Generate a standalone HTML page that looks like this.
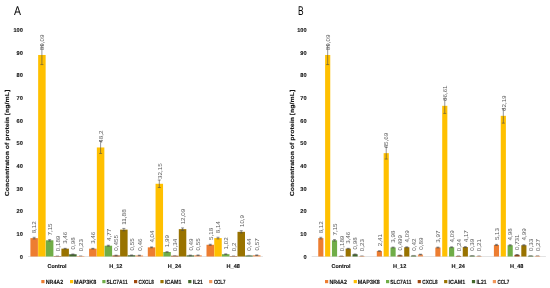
<!DOCTYPE html>
<html><head><meta charset="utf-8"><title>Protein concentration</title>
<style>
html,body{margin:0;padding:0;background:#fff;}
text[font-weight=bold]{stroke:#151515;stroke-width:0.12px;}
svg{display:block;font-family:"Liberation Sans",sans-serif;text-rendering:geometricPrecision;}
</style></head><body>
<svg width="550" height="288" viewBox="0 0 550 288">
<rect width="550" height="288" fill="#fff"/>
<text x="14" y="15.3" font-size="12.6" fill="#000" textLength="7" lengthAdjust="spacingAndGlyphs">A</text>
<text x="22.80" y="258.60" font-size="5.6" font-weight="bold" fill="#151515" text-anchor="end">0</text>
<text x="22.80" y="235.96" font-size="5.6" font-weight="bold" fill="#151515" text-anchor="end">10</text>
<text x="22.80" y="213.32" font-size="5.6" font-weight="bold" fill="#151515" text-anchor="end">20</text>
<text x="22.80" y="190.68" font-size="5.6" font-weight="bold" fill="#151515" text-anchor="end">30</text>
<text x="22.80" y="168.04" font-size="5.6" font-weight="bold" fill="#151515" text-anchor="end">40</text>
<text x="22.80" y="145.40" font-size="5.6" font-weight="bold" fill="#151515" text-anchor="end">50</text>
<text x="22.80" y="122.76" font-size="5.6" font-weight="bold" fill="#151515" text-anchor="end">60</text>
<text x="22.80" y="100.12" font-size="5.6" font-weight="bold" fill="#151515" text-anchor="end">70</text>
<text x="22.80" y="77.48" font-size="5.6" font-weight="bold" fill="#151515" text-anchor="end">80</text>
<text x="22.80" y="54.84" font-size="5.6" font-weight="bold" fill="#151515" text-anchor="end">90</text>
<text x="22.80" y="32.20" font-size="5.6" font-weight="bold" fill="#151515" text-anchor="end">100</text>
<text transform="translate(8.6,143) rotate(-90)" font-size="5.8" font-weight="bold" fill="#151515" text-anchor="middle" textLength="106.6" lengthAdjust="spacingAndGlyphs">Concentraton of protein [ng/mL]</text>
<line x1="28.1" y1="256.5" x2="262.90" y2="256.5" stroke="#D9D9D9" stroke-width="0.75"/>
<rect x="30.40" y="238.13" width="7.5" height="18.37" fill="#ED7D31"/>
<path d="M34.15 237.31V238.96M32.65 237.31h3M32.65 238.96h3" stroke="#4d4d4d" stroke-width="0.6" fill="none"/>
<text transform="translate(36.40,233.33) rotate(-90)" font-size="5.7" fill="#595959" textLength="12.1" lengthAdjust="spacingAndGlyphs">8,12</text>
<rect x="38.15" y="54.98" width="7.5" height="201.52" fill="#FFC000"/>
<path d="M41.90 45.38V64.58M40.40 45.38h3M40.40 64.58h3" stroke="#4d4d4d" stroke-width="0.6" fill="none"/>
<text transform="translate(44.15,50.18) rotate(-90)" font-size="5.7" fill="#595959" textLength="15.6" lengthAdjust="spacingAndGlyphs">89,09</text>
<rect x="45.90" y="240.33" width="7.5" height="16.17" fill="#70AD47"/>
<path d="M49.65 239.60V241.05M48.15 239.60h3M48.15 241.05h3" stroke="#4d4d4d" stroke-width="0.6" fill="none"/>
<text transform="translate(51.90,235.53) rotate(-90)" font-size="5.7" fill="#595959" textLength="12.1" lengthAdjust="spacingAndGlyphs">7,15</text>
<rect x="53.65" y="256.07" width="7.5" height="0.43" fill="#9E480E"/>
<path d="M55.80 255.97h3.2" stroke="#777" stroke-width="0.9" fill="none" opacity="0.75"/>
<text transform="translate(59.65,251.27) rotate(-90)" font-size="5.7" fill="#595959" textLength="15.6" lengthAdjust="spacingAndGlyphs">0,189</text>
<rect x="61.40" y="248.67" width="7.5" height="7.83" fill="#997300"/>
<path d="M65.15 248.32V249.03M63.65 248.32h3M63.65 249.03h3" stroke="#4d4d4d" stroke-width="0.6" fill="none"/>
<text transform="translate(67.40,243.87) rotate(-90)" font-size="5.7" fill="#595959" textLength="12.1" lengthAdjust="spacingAndGlyphs">3,46</text>
<rect x="69.15" y="254.28" width="7.5" height="2.22" fill="#43682B"/>
<path d="M72.90 253.98V254.58M71.40 253.98h3M71.40 254.58h3" stroke="#4d4d4d" stroke-width="0.6" fill="none"/>
<text transform="translate(75.15,249.48) rotate(-90)" font-size="5.7" fill="#595959" textLength="12.1" lengthAdjust="spacingAndGlyphs">0,98</text>
<rect x="76.90" y="255.98" width="7.5" height="0.52" fill="#F1975A"/>
<path d="M79.05 255.88h3.2" stroke="#777" stroke-width="0.9" fill="none" opacity="0.75"/>
<text transform="translate(82.90,251.18) rotate(-90)" font-size="5.7" fill="#595959" textLength="12.1" lengthAdjust="spacingAndGlyphs">0,23</text>
<text x="57.10" y="268.3" font-size="5.6" font-weight="bold" fill="#151515" text-anchor="middle" textLength="19" lengthAdjust="spacingAndGlyphs">Control</text>
<rect x="89.10" y="248.67" width="7.5" height="7.83" fill="#ED7D31"/>
<path d="M92.85 248.32V249.03M91.35 248.32h3M91.35 249.03h3" stroke="#4d4d4d" stroke-width="0.6" fill="none"/>
<text transform="translate(95.10,243.87) rotate(-90)" font-size="5.7" fill="#595959" textLength="12.1" lengthAdjust="spacingAndGlyphs">3,46</text>
<rect x="96.85" y="147.47" width="7.5" height="109.03" fill="#FFC000"/>
<path d="M100.60 141.47V153.47M99.10 141.47h3M99.10 153.47h3" stroke="#4d4d4d" stroke-width="0.6" fill="none"/>
<text transform="translate(102.85,142.67) rotate(-90)" font-size="5.7" fill="#595959" textLength="12.1" lengthAdjust="spacingAndGlyphs">48,2</text>
<rect x="104.60" y="245.71" width="7.5" height="10.79" fill="#70AD47"/>
<path d="M108.35 245.22V246.20M106.85 245.22h3M106.85 246.20h3" stroke="#4d4d4d" stroke-width="0.6" fill="none"/>
<text transform="translate(110.60,240.91) rotate(-90)" font-size="5.7" fill="#595959" textLength="12.1" lengthAdjust="spacingAndGlyphs">4,77</text>
<rect x="112.35" y="255.47" width="7.5" height="1.03" fill="#9E480E"/>
<path d="M116.10 255.17V255.77M114.60 255.17h3M114.60 255.77h3" stroke="#4d4d4d" stroke-width="0.6" fill="none"/>
<text transform="translate(118.35,250.67) rotate(-90)" font-size="5.7" fill="#595959" textLength="15.6" lengthAdjust="spacingAndGlyphs">0,455</text>
<rect x="120.10" y="229.63" width="7.5" height="26.87" fill="#997300"/>
<path d="M123.85 228.43V230.83M122.35 228.43h3M122.35 230.83h3" stroke="#4d4d4d" stroke-width="0.6" fill="none"/>
<text transform="translate(126.10,224.83) rotate(-90)" font-size="5.7" fill="#595959" textLength="15.6" lengthAdjust="spacingAndGlyphs">11,88</text>
<rect x="127.85" y="255.26" width="7.5" height="1.24" fill="#43682B"/>
<path d="M131.60 254.96V255.56M130.10 254.96h3M130.10 255.56h3" stroke="#4d4d4d" stroke-width="0.6" fill="none"/>
<text transform="translate(133.85,250.46) rotate(-90)" font-size="5.7" fill="#595959" textLength="12.1" lengthAdjust="spacingAndGlyphs">0,55</text>
<rect x="135.60" y="255.46" width="7.5" height="1.04" fill="#F1975A"/>
<path d="M139.35 255.16V255.76M137.85 255.16h3M137.85 255.76h3" stroke="#4d4d4d" stroke-width="0.6" fill="none"/>
<text transform="translate(141.60,250.66) rotate(-90)" font-size="5.7" fill="#595959" textLength="12.1" lengthAdjust="spacingAndGlyphs">0,46</text>
<text x="115.80" y="268.3" font-size="5.6" font-weight="bold" fill="#151515" text-anchor="middle" textLength="13.3" lengthAdjust="spacingAndGlyphs">H_12</text>
<rect x="147.80" y="247.36" width="7.5" height="9.14" fill="#ED7D31"/>
<path d="M151.55 246.95V247.77M150.05 246.95h3M150.05 247.77h3" stroke="#4d4d4d" stroke-width="0.6" fill="none"/>
<text transform="translate(153.80,242.56) rotate(-90)" font-size="5.7" fill="#595959" textLength="12.1" lengthAdjust="spacingAndGlyphs">4,04</text>
<rect x="155.55" y="183.78" width="7.5" height="72.72" fill="#FFC000"/>
<path d="M159.30 180.03V187.53M157.80 180.03h3M157.80 187.53h3" stroke="#4d4d4d" stroke-width="0.6" fill="none"/>
<text transform="translate(161.55,178.98) rotate(-90)" font-size="5.7" fill="#595959" textLength="15.6" lengthAdjust="spacingAndGlyphs">32,15</text>
<rect x="163.30" y="252.00" width="7.5" height="4.50" fill="#70AD47"/>
<path d="M167.05 251.70V252.30M165.55 251.70h3M165.55 252.30h3" stroke="#4d4d4d" stroke-width="0.6" fill="none"/>
<text transform="translate(169.30,247.20) rotate(-90)" font-size="5.7" fill="#595959" textLength="12.1" lengthAdjust="spacingAndGlyphs">1,99</text>
<rect x="171.05" y="255.73" width="7.5" height="0.77" fill="#9E480E"/>
<path d="M173.20 255.63h3.2" stroke="#777" stroke-width="0.9" fill="none" opacity="0.75"/>
<text transform="translate(177.05,250.93) rotate(-90)" font-size="5.7" fill="#595959" textLength="12.1" lengthAdjust="spacingAndGlyphs">0,34</text>
<rect x="178.80" y="229.15" width="7.5" height="27.35" fill="#997300"/>
<path d="M182.55 227.95V230.35M181.05 227.95h3M181.05 230.35h3" stroke="#4d4d4d" stroke-width="0.6" fill="none"/>
<text transform="translate(184.80,224.35) rotate(-90)" font-size="5.7" fill="#595959" textLength="15.6" lengthAdjust="spacingAndGlyphs">12,09</text>
<rect x="186.55" y="255.39" width="7.5" height="1.11" fill="#43682B"/>
<path d="M190.30 255.09V255.69M188.80 255.09h3M188.80 255.69h3" stroke="#4d4d4d" stroke-width="0.6" fill="none"/>
<text transform="translate(192.55,250.59) rotate(-90)" font-size="5.7" fill="#595959" textLength="12.1" lengthAdjust="spacingAndGlyphs">0,49</text>
<rect x="194.30" y="255.26" width="7.5" height="1.24" fill="#F1975A"/>
<path d="M198.05 254.96V255.56M196.55 254.96h3M196.55 255.56h3" stroke="#4d4d4d" stroke-width="0.6" fill="none"/>
<text transform="translate(200.30,250.46) rotate(-90)" font-size="5.7" fill="#595959" textLength="12.1" lengthAdjust="spacingAndGlyphs">0,55</text>
<text x="174.50" y="268.3" font-size="5.6" font-weight="bold" fill="#151515" text-anchor="middle" textLength="13.3" lengthAdjust="spacingAndGlyphs">H_24</text>
<rect x="206.50" y="244.78" width="7.5" height="11.72" fill="#ED7D31"/>
<path d="M210.25 244.26V245.31M208.75 244.26h3M208.75 245.31h3" stroke="#4d4d4d" stroke-width="0.6" fill="none"/>
<text transform="translate(212.50,239.98) rotate(-90)" font-size="5.7" fill="#595959" textLength="12.1" lengthAdjust="spacingAndGlyphs">5,18</text>
<rect x="214.25" y="238.09" width="7.5" height="18.41" fill="#FFC000"/>
<path d="M218.00 237.26V238.92M216.50 237.26h3M216.50 238.92h3" stroke="#4d4d4d" stroke-width="0.6" fill="none"/>
<text transform="translate(220.25,233.29) rotate(-90)" font-size="5.7" fill="#595959" textLength="12.1" lengthAdjust="spacingAndGlyphs">8,14</text>
<rect x="222.00" y="254.19" width="7.5" height="2.31" fill="#70AD47"/>
<path d="M225.75 253.89V254.49M224.25 253.89h3M224.25 254.49h3" stroke="#4d4d4d" stroke-width="0.6" fill="none"/>
<text transform="translate(228.00,249.39) rotate(-90)" font-size="5.7" fill="#595959" textLength="12.1" lengthAdjust="spacingAndGlyphs">1,02</text>
<rect x="229.75" y="256.05" width="7.5" height="0.45" fill="#9E480E"/>
<path d="M231.90 255.95h3.2" stroke="#777" stroke-width="0.9" fill="none" opacity="0.75"/>
<text transform="translate(235.75,251.25) rotate(-90)" font-size="5.7" fill="#595959" textLength="8.6" lengthAdjust="spacingAndGlyphs">0,2</text>
<rect x="237.50" y="231.84" width="7.5" height="24.66" fill="#997300"/>
<path d="M241.25 230.73V232.95M239.75 230.73h3M239.75 232.95h3" stroke="#4d4d4d" stroke-width="0.6" fill="none"/>
<text transform="translate(243.50,227.04) rotate(-90)" font-size="5.7" fill="#595959" textLength="12.1" lengthAdjust="spacingAndGlyphs">10,9</text>
<rect x="245.25" y="255.50" width="7.5" height="1.00" fill="#43682B"/>
<path d="M247.40 255.40h3.2" stroke="#777" stroke-width="0.9" fill="none" opacity="0.75"/>
<text transform="translate(251.25,250.70) rotate(-90)" font-size="5.7" fill="#595959" textLength="12.1" lengthAdjust="spacingAndGlyphs">0,44</text>
<rect x="253.00" y="255.21" width="7.5" height="1.29" fill="#F1975A"/>
<path d="M256.75 254.91V255.51M255.25 254.91h3M255.25 255.51h3" stroke="#4d4d4d" stroke-width="0.6" fill="none"/>
<text transform="translate(259.00,250.41) rotate(-90)" font-size="5.7" fill="#595959" textLength="12.1" lengthAdjust="spacingAndGlyphs">0,57</text>
<text x="233.20" y="268.3" font-size="5.6" font-weight="bold" fill="#151515" text-anchor="middle" textLength="13.3" lengthAdjust="spacingAndGlyphs">H_48</text>
<rect x="41.30" y="280" width="3.2" height="3.2" fill="#ED7D31"/>
<text x="45.70" y="283.6" font-size="6.0" font-weight="bold" fill="#151515" textLength="17.5" lengthAdjust="spacingAndGlyphs">NR4A2</text>
<rect x="70.00" y="280" width="3.2" height="3.2" fill="#FFC000"/>
<text x="74.10" y="283.6" font-size="6.0" font-weight="bold" fill="#151515" textLength="22.1" lengthAdjust="spacingAndGlyphs">MAP3K8</text>
<rect x="102.30" y="280" width="3.2" height="3.2" fill="#70AD47"/>
<text x="106.60" y="283.6" font-size="6.0" font-weight="bold" fill="#151515" textLength="21.1" lengthAdjust="spacingAndGlyphs">SLC7A11</text>
<rect x="134.00" y="280" width="3.2" height="3.2" fill="#9E480E"/>
<text x="138.60" y="283.6" font-size="6.0" font-weight="bold" fill="#151515" textLength="15.3" lengthAdjust="spacingAndGlyphs">CXCL8</text>
<rect x="160.40" y="280" width="3.2" height="3.2" fill="#997300"/>
<text x="164.90" y="283.6" font-size="6.0" font-weight="bold" fill="#151515" textLength="16.6" lengthAdjust="spacingAndGlyphs">ICAM1</text>
<rect x="188.20" y="280" width="3.2" height="3.2" fill="#43682B"/>
<text x="192.80" y="283.6" font-size="6.0" font-weight="bold" fill="#151515" textLength="9.9" lengthAdjust="spacingAndGlyphs">IL21</text>
<rect x="209.10" y="280" width="3.2" height="3.2" fill="#F1975A"/>
<text x="213.90" y="283.6" font-size="6.0" font-weight="bold" fill="#151515" textLength="11.6" lengthAdjust="spacingAndGlyphs">CCL7</text>
<text x="297.9" y="15.3" font-size="12.6" fill="#000" textLength="5.6" lengthAdjust="spacingAndGlyphs">B</text>
<text x="306.50" y="258.60" font-size="5.6" font-weight="bold" fill="#151515" text-anchor="end">0</text>
<text x="306.50" y="235.96" font-size="5.6" font-weight="bold" fill="#151515" text-anchor="end">10</text>
<text x="306.50" y="213.32" font-size="5.6" font-weight="bold" fill="#151515" text-anchor="end">20</text>
<text x="306.50" y="190.68" font-size="5.6" font-weight="bold" fill="#151515" text-anchor="end">30</text>
<text x="306.50" y="168.04" font-size="5.6" font-weight="bold" fill="#151515" text-anchor="end">40</text>
<text x="306.50" y="145.40" font-size="5.6" font-weight="bold" fill="#151515" text-anchor="end">50</text>
<text x="306.50" y="122.76" font-size="5.6" font-weight="bold" fill="#151515" text-anchor="end">60</text>
<text x="306.50" y="100.12" font-size="5.6" font-weight="bold" fill="#151515" text-anchor="end">70</text>
<text x="306.50" y="77.48" font-size="5.6" font-weight="bold" fill="#151515" text-anchor="end">80</text>
<text x="306.50" y="54.84" font-size="5.6" font-weight="bold" fill="#151515" text-anchor="end">90</text>
<text x="306.50" y="32.20" font-size="5.6" font-weight="bold" fill="#151515" text-anchor="end">100</text>
<text transform="translate(293.5,143) rotate(-90)" font-size="5.8" font-weight="bold" fill="#151515" text-anchor="middle" textLength="106.6" lengthAdjust="spacingAndGlyphs">Concentraton of protein [ng/mL]</text>
<line x1="311.7" y1="256.5" x2="545.90" y2="256.5" stroke="#D9D9D9" stroke-width="0.75"/>
<rect x="318.25" y="238.13" width="5.15" height="18.37" fill="#ED7D31"/>
<path d="M320.82 237.31V238.96M319.32 237.31h3M319.32 238.96h3" stroke="#4d4d4d" stroke-width="0.6" fill="none"/>
<text transform="translate(323.07,233.33) rotate(-90)" font-size="5.7" fill="#595959" textLength="12.1" lengthAdjust="spacingAndGlyphs">8,12</text>
<rect x="325.10" y="54.98" width="5.15" height="201.52" fill="#FFC000"/>
<path d="M327.68 45.38V64.58M326.18 45.38h3M326.18 64.58h3" stroke="#4d4d4d" stroke-width="0.6" fill="none"/>
<text transform="translate(329.93,50.18) rotate(-90)" font-size="5.7" fill="#595959" textLength="15.6" lengthAdjust="spacingAndGlyphs">89,09</text>
<rect x="331.95" y="240.33" width="5.15" height="16.17" fill="#70AD47"/>
<path d="M334.52 239.60V241.05M333.02 239.60h3M333.02 241.05h3" stroke="#4d4d4d" stroke-width="0.6" fill="none"/>
<text transform="translate(336.77,235.53) rotate(-90)" font-size="5.7" fill="#595959" textLength="12.1" lengthAdjust="spacingAndGlyphs">7,15</text>
<rect x="338.80" y="256.07" width="5.15" height="0.43" fill="#9E480E"/>
<path d="M339.77 255.97h3.2" stroke="#777" stroke-width="0.9" fill="none" opacity="0.75"/>
<text transform="translate(343.62,251.27) rotate(-90)" font-size="5.7" fill="#595959" textLength="15.6" lengthAdjust="spacingAndGlyphs">0,189</text>
<rect x="345.65" y="248.67" width="5.15" height="7.83" fill="#997300"/>
<path d="M348.22 248.32V249.03M346.72 248.32h3M346.72 249.03h3" stroke="#4d4d4d" stroke-width="0.6" fill="none"/>
<text transform="translate(350.47,243.87) rotate(-90)" font-size="5.7" fill="#595959" textLength="12.1" lengthAdjust="spacingAndGlyphs">3,46</text>
<rect x="352.50" y="254.28" width="5.15" height="2.22" fill="#43682B"/>
<path d="M355.07 253.98V254.58M353.57 253.98h3M353.57 254.58h3" stroke="#4d4d4d" stroke-width="0.6" fill="none"/>
<text transform="translate(357.32,249.48) rotate(-90)" font-size="5.7" fill="#595959" textLength="12.1" lengthAdjust="spacingAndGlyphs">0,98</text>
<rect x="359.35" y="255.98" width="5.15" height="0.52" fill="#F1975A"/>
<path d="M360.32 255.88h3.2" stroke="#777" stroke-width="0.9" fill="none" opacity="0.75"/>
<text transform="translate(364.18,251.18) rotate(-90)" font-size="5.7" fill="#595959" textLength="12.1" lengthAdjust="spacingAndGlyphs">0,23</text>
<text x="341.07" y="268.3" font-size="5.6" font-weight="bold" fill="#151515" text-anchor="middle" textLength="19" lengthAdjust="spacingAndGlyphs">Control</text>
<rect x="376.80" y="251.05" width="5.15" height="5.45" fill="#ED7D31"/>
<path d="M379.38 250.75V251.35M377.88 250.75h3M377.88 251.35h3" stroke="#4d4d4d" stroke-width="0.6" fill="none"/>
<text transform="translate(381.62,246.25) rotate(-90)" font-size="5.7" fill="#595959" textLength="12.1" lengthAdjust="spacingAndGlyphs">2,41</text>
<rect x="383.65" y="153.15" width="5.15" height="103.35" fill="#FFC000"/>
<path d="M386.23 147.25V159.05M384.73 147.25h3M384.73 159.05h3" stroke="#4d4d4d" stroke-width="0.6" fill="none"/>
<text transform="translate(388.48,148.35) rotate(-90)" font-size="5.7" fill="#595959" textLength="15.6" lengthAdjust="spacingAndGlyphs">45,69</text>
<rect x="390.50" y="247.50" width="5.15" height="9.00" fill="#70AD47"/>
<path d="M393.07 247.09V247.90M391.57 247.09h3M391.57 247.90h3" stroke="#4d4d4d" stroke-width="0.6" fill="none"/>
<text transform="translate(395.32,242.70) rotate(-90)" font-size="5.7" fill="#595959" textLength="12.1" lengthAdjust="spacingAndGlyphs">3,98</text>
<rect x="397.35" y="255.37" width="5.15" height="1.13" fill="#9E480E"/>
<path d="M399.93 255.07V255.67M398.43 255.07h3M398.43 255.67h3" stroke="#4d4d4d" stroke-width="0.6" fill="none"/>
<text transform="translate(402.18,250.57) rotate(-90)" font-size="5.7" fill="#595959" textLength="15.6" lengthAdjust="spacingAndGlyphs">0,499</text>
<rect x="404.20" y="247.25" width="5.15" height="9.25" fill="#997300"/>
<path d="M406.77 246.83V247.66M405.27 246.83h3M405.27 247.66h3" stroke="#4d4d4d" stroke-width="0.6" fill="none"/>
<text transform="translate(409.02,242.45) rotate(-90)" font-size="5.7" fill="#595959" textLength="12.1" lengthAdjust="spacingAndGlyphs">4,09</text>
<rect x="411.05" y="255.55" width="5.15" height="0.95" fill="#43682B"/>
<path d="M412.02 255.45h3.2" stroke="#777" stroke-width="0.9" fill="none" opacity="0.75"/>
<text transform="translate(415.88,250.75) rotate(-90)" font-size="5.7" fill="#595959" textLength="12.1" lengthAdjust="spacingAndGlyphs">0,42</text>
<rect x="417.90" y="254.49" width="5.15" height="2.01" fill="#F1975A"/>
<path d="M420.47 254.19V254.79M418.97 254.19h3M418.97 254.79h3" stroke="#4d4d4d" stroke-width="0.6" fill="none"/>
<text transform="translate(422.72,249.69) rotate(-90)" font-size="5.7" fill="#595959" textLength="12.1" lengthAdjust="spacingAndGlyphs">0,89</text>
<text x="399.62" y="268.3" font-size="5.6" font-weight="bold" fill="#151515" text-anchor="middle" textLength="13.3" lengthAdjust="spacingAndGlyphs">H_12</text>
<rect x="435.35" y="247.52" width="5.15" height="8.98" fill="#ED7D31"/>
<path d="M437.92 247.12V247.92M436.42 247.12h3M436.42 247.92h3" stroke="#4d4d4d" stroke-width="0.6" fill="none"/>
<text transform="translate(440.17,242.72) rotate(-90)" font-size="5.7" fill="#595959" textLength="12.1" lengthAdjust="spacingAndGlyphs">3,97</text>
<rect x="442.20" y="105.83" width="5.15" height="150.67" fill="#FFC000"/>
<path d="M444.77 98.23V113.43M443.27 98.23h3M443.27 113.43h3" stroke="#4d4d4d" stroke-width="0.6" fill="none"/>
<text transform="translate(447.02,101.03) rotate(-90)" font-size="5.7" fill="#595959" textLength="15.6" lengthAdjust="spacingAndGlyphs">66,61</text>
<rect x="449.05" y="247.25" width="5.15" height="9.25" fill="#70AD47"/>
<path d="M451.62 246.83V247.66M450.12 246.83h3M450.12 247.66h3" stroke="#4d4d4d" stroke-width="0.6" fill="none"/>
<text transform="translate(453.87,242.45) rotate(-90)" font-size="5.7" fill="#595959" textLength="12.1" lengthAdjust="spacingAndGlyphs">4,09</text>
<rect x="455.90" y="255.96" width="5.15" height="0.54" fill="#9E480E"/>
<path d="M456.87 255.86h3.2" stroke="#777" stroke-width="0.9" fill="none" opacity="0.75"/>
<text transform="translate(460.72,251.16) rotate(-90)" font-size="5.7" fill="#595959" textLength="12.1" lengthAdjust="spacingAndGlyphs">0,24</text>
<rect x="462.75" y="247.07" width="5.15" height="9.43" fill="#997300"/>
<path d="M465.32 246.64V247.49M463.82 246.64h3M463.82 247.49h3" stroke="#4d4d4d" stroke-width="0.6" fill="none"/>
<text transform="translate(467.57,242.27) rotate(-90)" font-size="5.7" fill="#595959" textLength="12.1" lengthAdjust="spacingAndGlyphs">4,17</text>
<rect x="469.60" y="255.62" width="5.15" height="0.88" fill="#43682B"/>
<path d="M470.57 255.52h3.2" stroke="#777" stroke-width="0.9" fill="none" opacity="0.75"/>
<text transform="translate(474.42,250.82) rotate(-90)" font-size="5.7" fill="#595959" textLength="12.1" lengthAdjust="spacingAndGlyphs">0,39</text>
<rect x="476.45" y="256.02" width="5.15" height="0.48" fill="#F1975A"/>
<path d="M477.42 255.92h3.2" stroke="#777" stroke-width="0.9" fill="none" opacity="0.75"/>
<text transform="translate(481.27,251.22) rotate(-90)" font-size="5.7" fill="#595959" textLength="12.1" lengthAdjust="spacingAndGlyphs">0,21</text>
<text x="458.17" y="268.3" font-size="5.6" font-weight="bold" fill="#151515" text-anchor="middle" textLength="13.3" lengthAdjust="spacingAndGlyphs">H_24</text>
<rect x="493.90" y="244.90" width="5.15" height="11.60" fill="#ED7D31"/>
<path d="M496.47 244.37V245.42M494.97 244.37h3M494.97 245.42h3" stroke="#4d4d4d" stroke-width="0.6" fill="none"/>
<text transform="translate(498.72,240.10) rotate(-90)" font-size="5.7" fill="#595959" textLength="12.1" lengthAdjust="spacingAndGlyphs">5,13</text>
<rect x="500.75" y="115.83" width="5.15" height="140.67" fill="#FFC000"/>
<path d="M503.32 108.53V123.13M501.82 108.53h3M501.82 123.13h3" stroke="#4d4d4d" stroke-width="0.6" fill="none"/>
<text transform="translate(505.57,111.03) rotate(-90)" font-size="5.7" fill="#595959" textLength="15.6" lengthAdjust="spacingAndGlyphs">62,19</text>
<rect x="507.60" y="245.24" width="5.15" height="11.26" fill="#70AD47"/>
<path d="M510.17 244.73V245.74M508.67 244.73h3M508.67 245.74h3" stroke="#4d4d4d" stroke-width="0.6" fill="none"/>
<text transform="translate(512.42,240.44) rotate(-90)" font-size="5.7" fill="#595959" textLength="12.1" lengthAdjust="spacingAndGlyphs">4,98</text>
<rect x="514.45" y="254.85" width="5.15" height="1.65" fill="#9E480E"/>
<path d="M517.02 254.55V255.15M515.52 254.55h3M515.52 255.15h3" stroke="#4d4d4d" stroke-width="0.6" fill="none"/>
<text transform="translate(519.27,250.05) rotate(-90)" font-size="5.7" fill="#595959" textLength="15.6" lengthAdjust="spacingAndGlyphs">0,731</text>
<rect x="521.30" y="245.21" width="5.15" height="11.29" fill="#997300"/>
<path d="M523.88 244.70V245.72M522.38 244.70h3M522.38 245.72h3" stroke="#4d4d4d" stroke-width="0.6" fill="none"/>
<text transform="translate(526.12,240.41) rotate(-90)" font-size="5.7" fill="#595959" textLength="12.1" lengthAdjust="spacingAndGlyphs">4,99</text>
<rect x="528.15" y="255.75" width="5.15" height="0.75" fill="#43682B"/>
<path d="M529.12 255.65h3.2" stroke="#777" stroke-width="0.9" fill="none" opacity="0.75"/>
<text transform="translate(532.98,250.95) rotate(-90)" font-size="5.7" fill="#595959" textLength="12.1" lengthAdjust="spacingAndGlyphs">0,33</text>
<rect x="535.00" y="255.89" width="5.15" height="0.61" fill="#F1975A"/>
<path d="M535.98 255.79h3.2" stroke="#777" stroke-width="0.9" fill="none" opacity="0.75"/>
<text transform="translate(539.83,251.09) rotate(-90)" font-size="5.7" fill="#595959" textLength="12.1" lengthAdjust="spacingAndGlyphs">0,27</text>
<text x="516.73" y="268.3" font-size="5.6" font-weight="bold" fill="#151515" text-anchor="middle" textLength="13.3" lengthAdjust="spacingAndGlyphs">H_48</text>
<rect x="325.00" y="280" width="3.2" height="3.2" fill="#ED7D31"/>
<text x="329.40" y="283.6" font-size="6.0" font-weight="bold" fill="#151515" textLength="17.5" lengthAdjust="spacingAndGlyphs">NR4A2</text>
<rect x="353.70" y="280" width="3.2" height="3.2" fill="#FFC000"/>
<text x="357.80" y="283.6" font-size="6.0" font-weight="bold" fill="#151515" textLength="22.1" lengthAdjust="spacingAndGlyphs">MAP3K8</text>
<rect x="386.00" y="280" width="3.2" height="3.2" fill="#70AD47"/>
<text x="390.30" y="283.6" font-size="6.0" font-weight="bold" fill="#151515" textLength="21.1" lengthAdjust="spacingAndGlyphs">SLC7A11</text>
<rect x="417.70" y="280" width="3.2" height="3.2" fill="#9E480E"/>
<text x="422.30" y="283.6" font-size="6.0" font-weight="bold" fill="#151515" textLength="15.3" lengthAdjust="spacingAndGlyphs">CXCL8</text>
<rect x="444.10" y="280" width="3.2" height="3.2" fill="#997300"/>
<text x="448.60" y="283.6" font-size="6.0" font-weight="bold" fill="#151515" textLength="16.6" lengthAdjust="spacingAndGlyphs">ICAM1</text>
<rect x="471.90" y="280" width="3.2" height="3.2" fill="#43682B"/>
<text x="476.50" y="283.6" font-size="6.0" font-weight="bold" fill="#151515" textLength="9.9" lengthAdjust="spacingAndGlyphs">IL21</text>
<rect x="492.80" y="280" width="3.2" height="3.2" fill="#F1975A"/>
<text x="497.60" y="283.6" font-size="6.0" font-weight="bold" fill="#151515" textLength="11.6" lengthAdjust="spacingAndGlyphs">CCL7</text>
</svg>
</body></html>
